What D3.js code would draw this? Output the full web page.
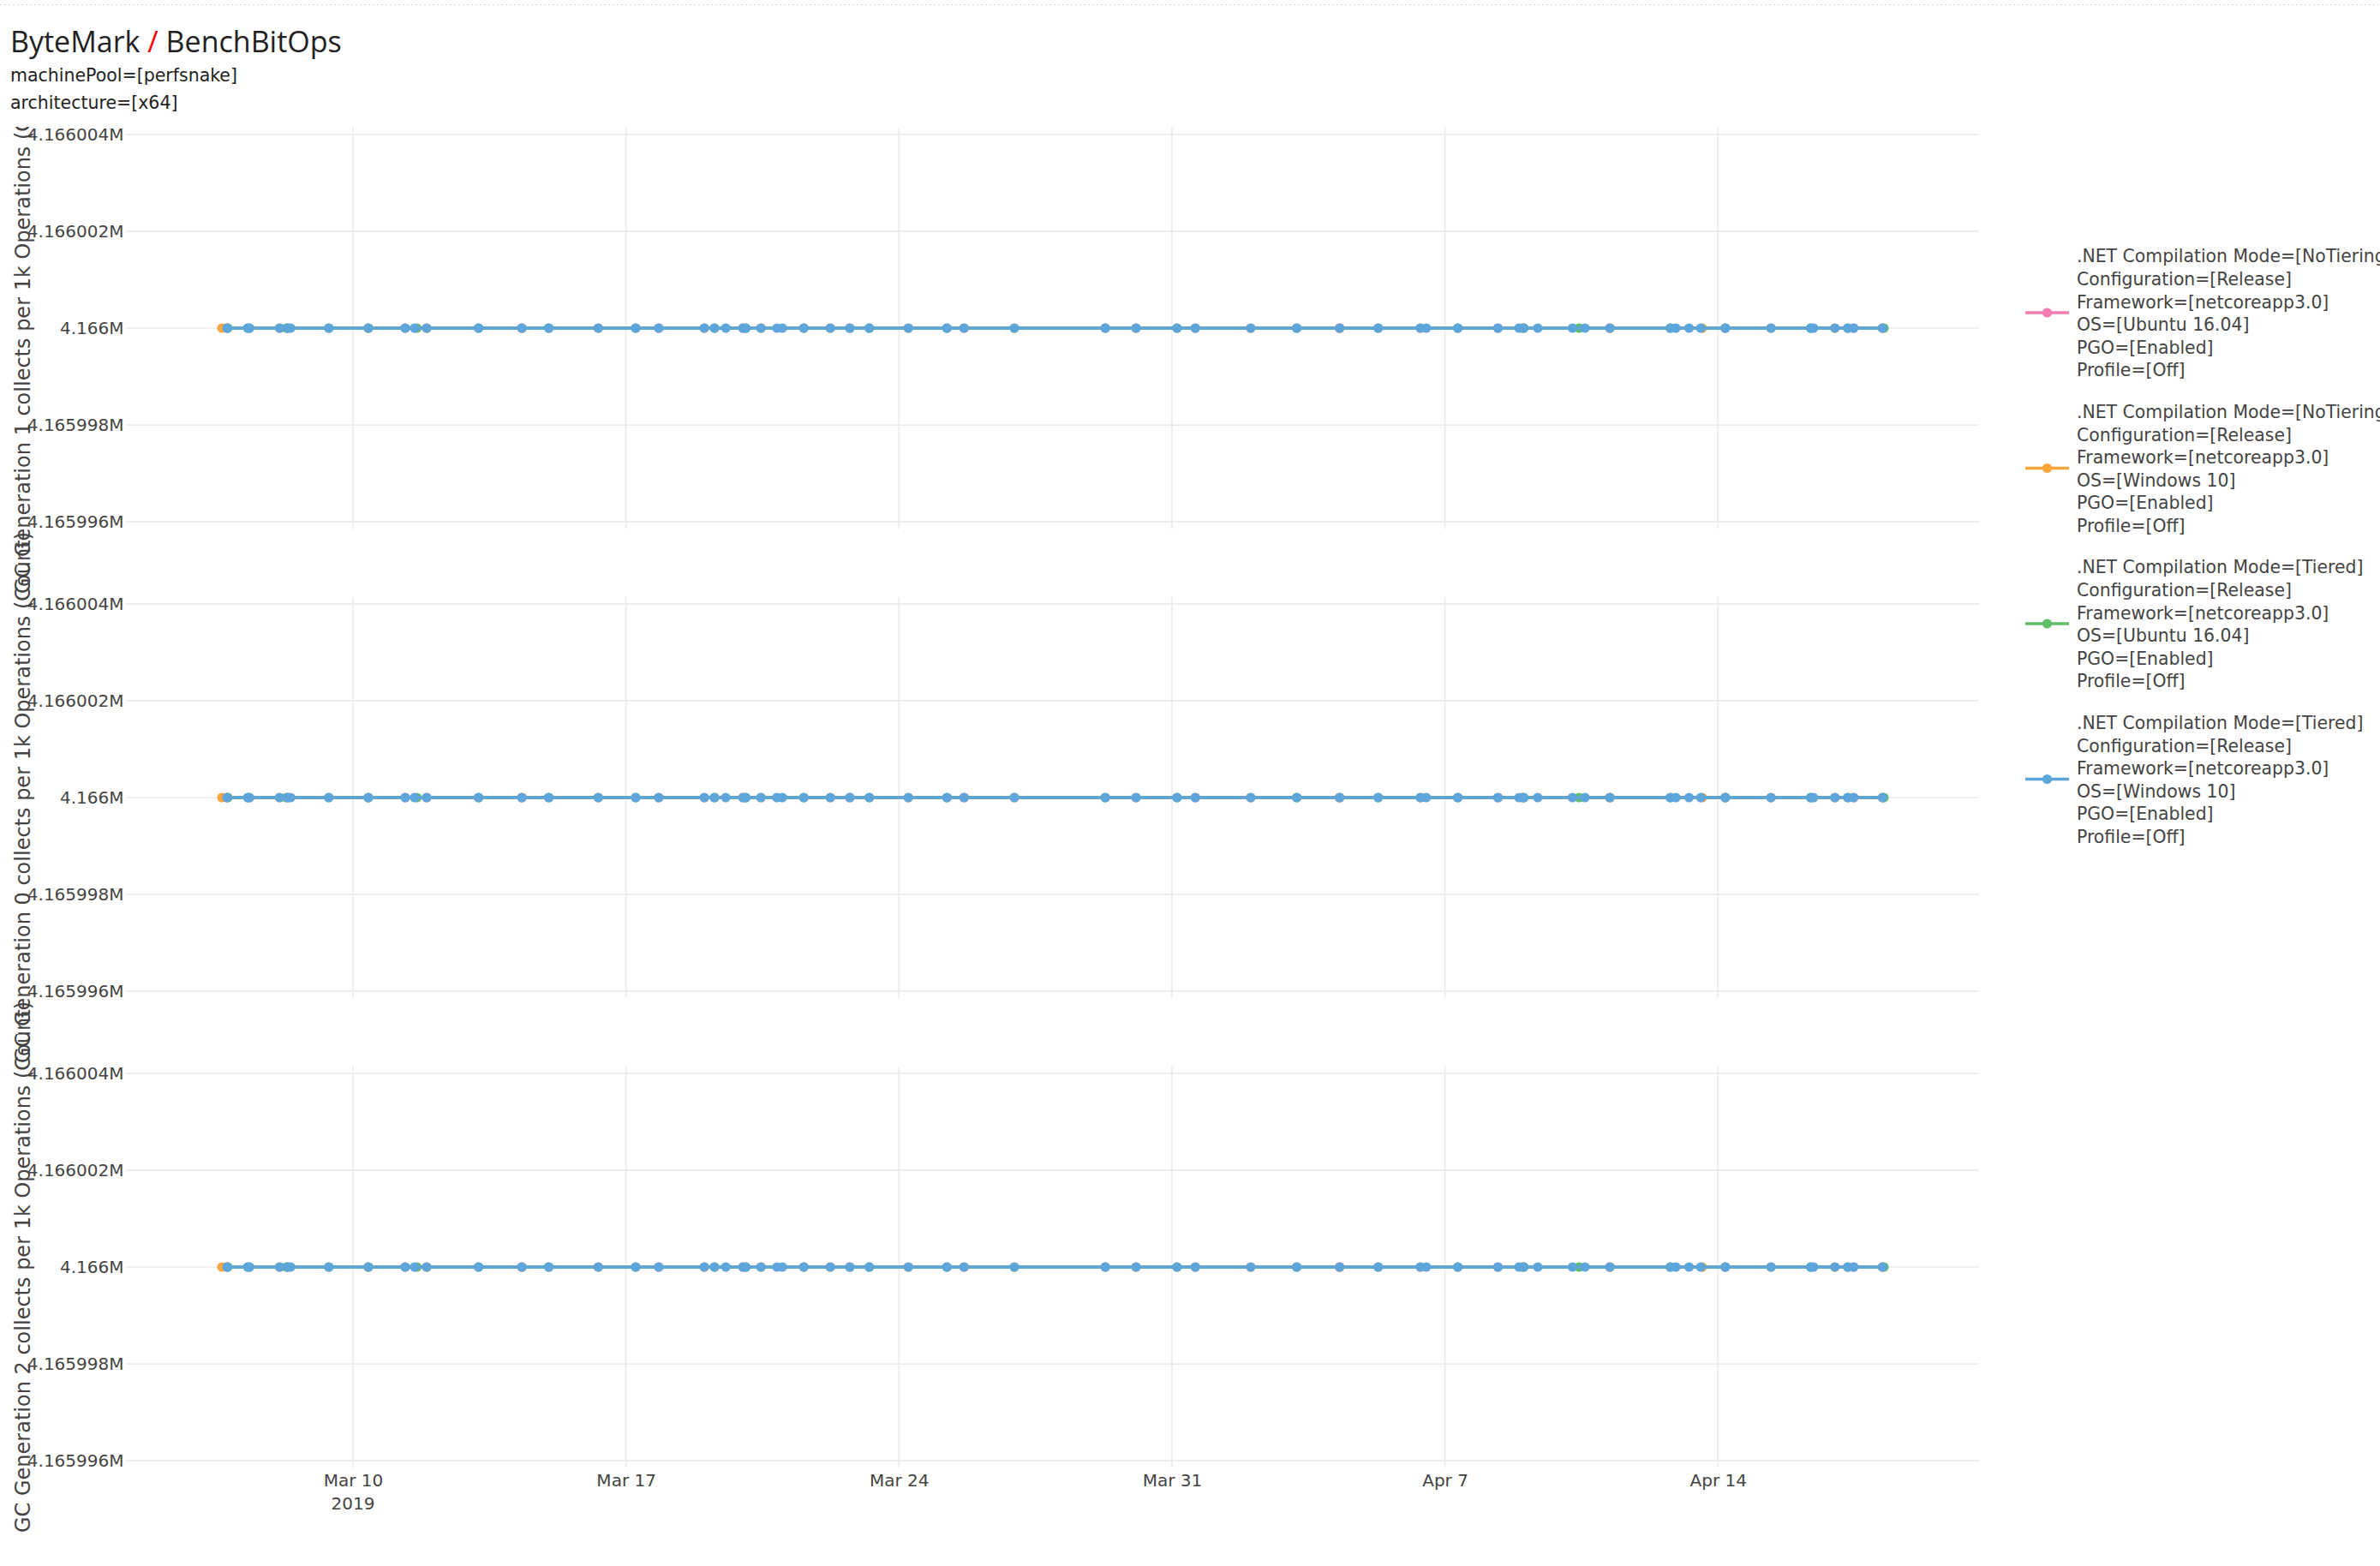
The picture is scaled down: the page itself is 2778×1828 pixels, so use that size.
<!DOCTYPE html>
<html>
<head>
<meta charset="utf-8">
<script src="https://cdn.jsdelivr.net/npm/d3@7"></script>
<style>
  html, body { margin: 0; padding: 0; background: #fff; overflow: hidden; }
  svg { display: block; }
</style>
</head>
<body>
<svg id="chart" width="2778" height="1828"></svg>
<script>
// ---------------- DATA ----------------
const chartTitleParts = ["ByteMark", " / ", "BenchBitOps"];
const subtitleLines = ["machinePool=[perfsnake]", "architecture=[x64]"];

const panelTitles = [
  "GC Generation 1 collects per 1k Operations (Count)",
  "GC Generation 0 collects per 1k Operations (Count)",
  "GC Generation 2 collects per 1k Operations (Count)"
];

const seriesLabels = [
  [".NET Compilation Mode=[NoTiering]", "Configuration=[Release]", "Framework=[netcoreapp3.0]", "OS=[Ubuntu 16.04]", "PGO=[Enabled]", "Profile=[Off]"],
  [".NET Compilation Mode=[NoTiering]", "Configuration=[Release]", "Framework=[netcoreapp3.0]", "OS=[Windows 10]", "PGO=[Enabled]", "Profile=[Off]"],
  [".NET Compilation Mode=[Tiered]", "Configuration=[Release]", "Framework=[netcoreapp3.0]", "OS=[Ubuntu 16.04]", "PGO=[Enabled]", "Profile=[Off]"],
  [".NET Compilation Mode=[Tiered]", "Configuration=[Release]", "Framework=[netcoreapp3.0]", "OS=[Windows 10]", "PGO=[Enabled]", "Profile=[Off]"]
];
const seriesColors = ["#F17CB0", "#FAA43A", "#60BD68", "#5DA5DA"];

// NoTiering / Ubuntu 16.04 (pink)
const pinkDates = ["2019-03-06T18:29","2019-03-08T07:55","2019-03-11T08:10","2019-03-14T07:55","2019-03-17T20:10",
  "2019-03-20T00:00","2019-03-22T17:46","2019-03-25T16:05","2019-03-31T14:24","2019-04-04T07:12",
  "2019-04-08T08:38","2019-04-11T05:31","2019-04-14T04:34","2019-04-17T11:31"];
const pinkValues = [4166000,4166000,4166000,4166000,4166000,4166000,4166000,4166000,4166000,4166000,
  4166000,4166000,4166000,4166000];

// NoTiering / Windows 10 (orange)
const orangeDates = ["2019-03-06T15:22","2019-03-08T02:53","2019-03-10T09:22","2019-03-11T21:22","2019-03-14T07:55",
  "2019-03-16T06:58","2019-03-19T00:14","2019-03-20T11:02","2019-03-22T05:46","2019-03-24T05:46",
  "2019-03-26T23:02","2019-03-30T01:55","2019-04-02T00:29","2019-04-04T07:12","2019-04-06T08:53",
  "2019-04-08T23:31","2019-04-11T05:31","2019-04-13T14:20","2019-04-15T08:38","2019-04-17T00:00",
  "2019-04-18T05:17"];
const orangeValues = [4166000,4166000,4166000,4166000,4166000,4166000,4166000,4166000,4166000,4166000,
  4166000,4166000,4166000,4166000,4166000,4166000,4166000,4166000,4166000,4166000,
  4166000];

// Tiered / Ubuntu 16.04 (green)
const greenDates = ["2019-03-06T19:00","2019-03-07T07:40","2019-03-08T06:58","2019-03-09T09:07","2019-03-10T09:36",
  "2019-03-11T15:22","2019-03-13T05:17","2019-03-15T00:29","2019-03-17T06:00","2019-03-19T06:29",
  "2019-03-20T01:41","2019-03-21T13:26","2019-03-23T05:46","2019-03-25T05:31","2019-03-29T06:58",
  "2019-03-31T03:07","2019-04-03T04:48","2019-04-05T06:58","2019-04-07T07:55","2019-04-09T00:29",
  "2019-04-10T10:34","2019-04-12T18:43","2019-04-14T04:34","2019-04-16T09:07","2019-04-17T07:55",
  "2019-04-18T06:10"];
const greenValues = [4166000,4166000,4166000,4166000,4166000,4166000,4166000,4166000,4166000,4166000,
  4166000,4166000,4166000,4166000,4166000,4166000,4166000,4166000,4166000,4166000,
  4166000,4166000,4166000,4166000,4166000,4166000];

// Tiered / Windows 10 (blue)
const blueDates = ["2019-03-06T18:29","2019-03-07T07:12","2019-03-07T08:24","2019-03-08T02:53","2019-03-08T07:55",
  "2019-03-08T09:36","2019-03-09T09:07","2019-03-10T09:22","2019-03-11T08:10","2019-03-11T13:55",
  "2019-03-11T21:22","2019-03-13T05:17","2019-03-14T07:55","2019-03-15T00:29","2019-03-16T06:58",
  "2019-03-17T06:00","2019-03-17T20:10","2019-03-19T00:14","2019-03-19T06:29","2019-03-19T13:26",
  "2019-03-20T00:00","2019-03-20T01:41","2019-03-20T11:02","2019-03-20T20:53","2019-03-21T00:14",
  "2019-03-21T13:26","2019-03-22T05:46","2019-03-22T17:46","2019-03-23T05:46","2019-03-24T05:46",
  "2019-03-25T05:31","2019-03-25T16:05","2019-03-26T23:02","2019-03-29T06:58","2019-03-30T01:55",
  "2019-03-31T03:07","2019-03-31T14:24","2019-04-02T00:29","2019-04-03T04:48","2019-04-04T07:12",
  "2019-04-05T06:58","2019-04-06T08:53","2019-04-06T12:29","2019-04-07T07:55","2019-04-08T08:38",
  "2019-04-08T21:36","2019-04-09T00:29","2019-04-09T09:07","2019-04-10T06:29","2019-04-10T14:10",
  "2019-04-11T05:31","2019-04-12T18:43","2019-04-12T22:05","2019-04-13T06:14","2019-04-13T13:26",
  "2019-04-14T04:34","2019-04-15T08:38","2019-04-16T09:07","2019-04-16T10:48","2019-04-17T00:00",
  "2019-04-17T07:55","2019-04-17T11:31","2019-04-18T05:17"];
const blueValues = [4166000,4166000,4166000,4166000,4166000,4166000,4166000,4166000,4166000,4166000,
  4166000,4166000,4166000,4166000,4166000,4166000,4166000,4166000,4166000,4166000,
  4166000,4166000,4166000,4166000,4166000,4166000,4166000,4166000,4166000,4166000,
  4166000,4166000,4166000,4166000,4166000,4166000,4166000,4166000,4166000,4166000,
  4166000,4166000,4166000,4166000,4166000,4166000,4166000,4166000,4166000,4166000,
  4166000,4166000,4166000,4166000,4166000,4166000,4166000,4166000,4166000,4166000,
  4166000,4166000,4166000];

const yTickValues = [4165996, 4165998, 4166000, 4166002, 4166004];
const yTickLabels = ["4.165996M", "4.165998M", "4.166M", "4.166002M", "4.166004M"];
const yDomain = [4165995.86, 4166004.14];

const xTickDates = ["2019-03-10T00:00","2019-03-17T00:00","2019-03-24T00:00","2019-03-31T00:00","2019-04-07T00:00","2019-04-14T00:00"];
const xTickLabels = ["Mar 10", "Mar 17", "Mar 24", "Mar 31", "Apr 7", "Apr 14"];
const xYearLabel = "2019";
const xDomain = ["2019-03-04T04:17", "2019-04-20T16:42"];

// ---------------- LAYOUT ----------------
const parseTime = d3.timeParse("%Y-%m-%dT%H:%M");
const X0 = 147, X1 = 2310;
const PANEL_H = 468;
const panelTops = [149, 697, 1245];
const FONT = "'DejaVu Sans', Verdana, sans-serif";
const GRID = "#ebebeb";
const TEXT = "#444";

const seriesDates = [pinkDates, orangeDates, greenDates, blueDates];
const seriesValues = [pinkValues, orangeValues, greenValues, blueValues];
const series = seriesDates.map((dates, i) => ({
  color: seriesColors[i],
  labels: seriesLabels[i],
  points: dates.map((d, j) => ({ date: parseTime(d), value: seriesValues[i][j] }))
}));

const svg = d3.select("#chart");
svg.append("rect").attr("width", 2778).attr("height", 1828).attr("fill", "#fff");

// top dotted separator
svg.append("line")
  .attr("x1", 0).attr("x2", 2778).attr("y1", 5.5).attr("y2", 5.5)
  .attr("stroke", "#d8d8d8").attr("stroke-width", 1.2).attr("stroke-dasharray", "2,3");

// title
const title = svg.append("text")
  .attr("x", 12).attr("y", 61)
  .attr("font-family", "'Open Sans', sans-serif").attr("font-size", 34).attr("fill", "#222");
title.append("tspan").text(chartTitleParts[0]);
title.append("tspan").attr("fill", "red").text(chartTitleParts[1]);
title.append("tspan").text(chartTitleParts[2]);

subtitleLines.forEach((t, i) => {
  svg.append("text")
    .attr("x", 12).attr("y", 95 + i * 31.7)
    .attr("font-family", FONT).attr("font-size", 20.5).attr("fill", "#222")
    .text(t);
});

const x = d3.scaleTime()
  .domain([parseTime(xDomain[0]), parseTime(xDomain[1])])
  .range([X0, X1]);
const xTicks = xTickDates.map(parseTime);

// clip for y titles (plot container begins at y=148)
svg.append("defs").append("clipPath").attr("id", "plotclip")
  .append("rect").attr("x", 0).attr("y", 148).attr("width", 2778).attr("height", 1828 - 148);

const titleLayer = svg.append("g").attr("clip-path", "url(#plotclip)");

panelTops.forEach((top, p) => {
  const y = d3.scaleLinear().domain(yDomain).range([top + PANEL_H, top]);
  const g = svg.append("g");

  // grid lines
  g.append("g").selectAll("line").data(yTickValues).join("line")
    .attr("x1", X0).attr("x2", X1)
    .attr("y1", d => y(d)).attr("y2", d => y(d))
    .attr("stroke", GRID).attr("stroke-width", 1.7);
  g.append("g").selectAll("line").data(xTicks).join("line")
    .attr("x1", d => x(d)).attr("x2", d => x(d))
    .attr("y1", top).attr("y2", top + PANEL_H)
    .attr("stroke", GRID).attr("stroke-width", 1.7);

  // y axis
  const yAxis = d3.axisLeft(y)
    .tickValues(yTickValues)
    .tickFormat((d, i) => yTickLabels[i])
    .tickSize(0).tickPadding(2.5);
  const ya = g.append("g").attr("transform", `translate(${X0},0)`).call(yAxis);
  ya.select(".domain").remove();
  ya.selectAll("text").attr("font-family", FONT).attr("font-size", 20).attr("fill", TEXT);

  // y axis title
  titleLayer.append("text")
    .attr("transform", `translate(35,${top + PANEL_H / 2}) rotate(-90)`)
    .attr("text-anchor", "middle")
    .attr("font-family", FONT).attr("font-size", 24).attr("fill", TEXT)
    .text(panelTitles[p]);

  // traces
  const line = d3.line().x(d => x(d.date)).y(d => y(d.value));
  series.forEach(s => {
    const tg = g.append("g");
    tg.append("path").datum(s.points)
      .attr("d", line).attr("fill", "none")
      .attr("stroke", s.color).attr("stroke-width", 3.4)
      .attr("stroke-linejoin", "round");
    tg.selectAll("circle").data(s.points).join("circle")
      .attr("cx", d => x(d.date)).attr("cy", d => y(d.value))
      .attr("r", 5.6).attr("fill", s.color);
  });

  // x axis labels on bottom panel only
  if (p === panelTops.length - 1) {
    const xAxis = d3.axisBottom(x)
      .tickValues(xTicks)
      .tickFormat((d, i) => xTickLabels[i])
      .tickSize(0).tickPadding(7.5);
    const xa = g.append("g").attr("transform", `translate(0,${top + PANEL_H})`).call(xAxis);
    xa.select(".domain").remove();
    xa.selectAll("text").attr("font-family", FONT).attr("font-size", 20).attr("fill", TEXT);
    g.append("text")
      .attr("x", x(xTicks[0])).attr("y", top + PANEL_H + 49)
      .attr("text-anchor", "middle")
      .attr("font-family", FONT).attr("font-size", 20).attr("fill", TEXT)
      .text(xYearLabel);
  }
});

// legend
const legend = svg.append("g");
series.forEach((s, i) => {
  const cy = 365 + i * 181.5;
  const lg = legend.append("g");
  lg.append("line").attr("x1", 2364).attr("x2", 2415).attr("y1", cy).attr("y2", cy)
    .attr("stroke", s.color).attr("stroke-width", 3.4);
  lg.append("circle").attr("cx", 2389.5).attr("cy", cy).attr("r", 5.6).attr("fill", s.color);
  const t = lg.append("text")
    .attr("font-family", FONT).attr("font-size", 20.4).attr("fill", TEXT);
  s.labels.forEach((l, k) => {
    t.append("tspan").attr("x", 2424).attr("y", cy - 58.6 + k * 26.6).text(l);
  });
});
</script>
</body>
</html>
